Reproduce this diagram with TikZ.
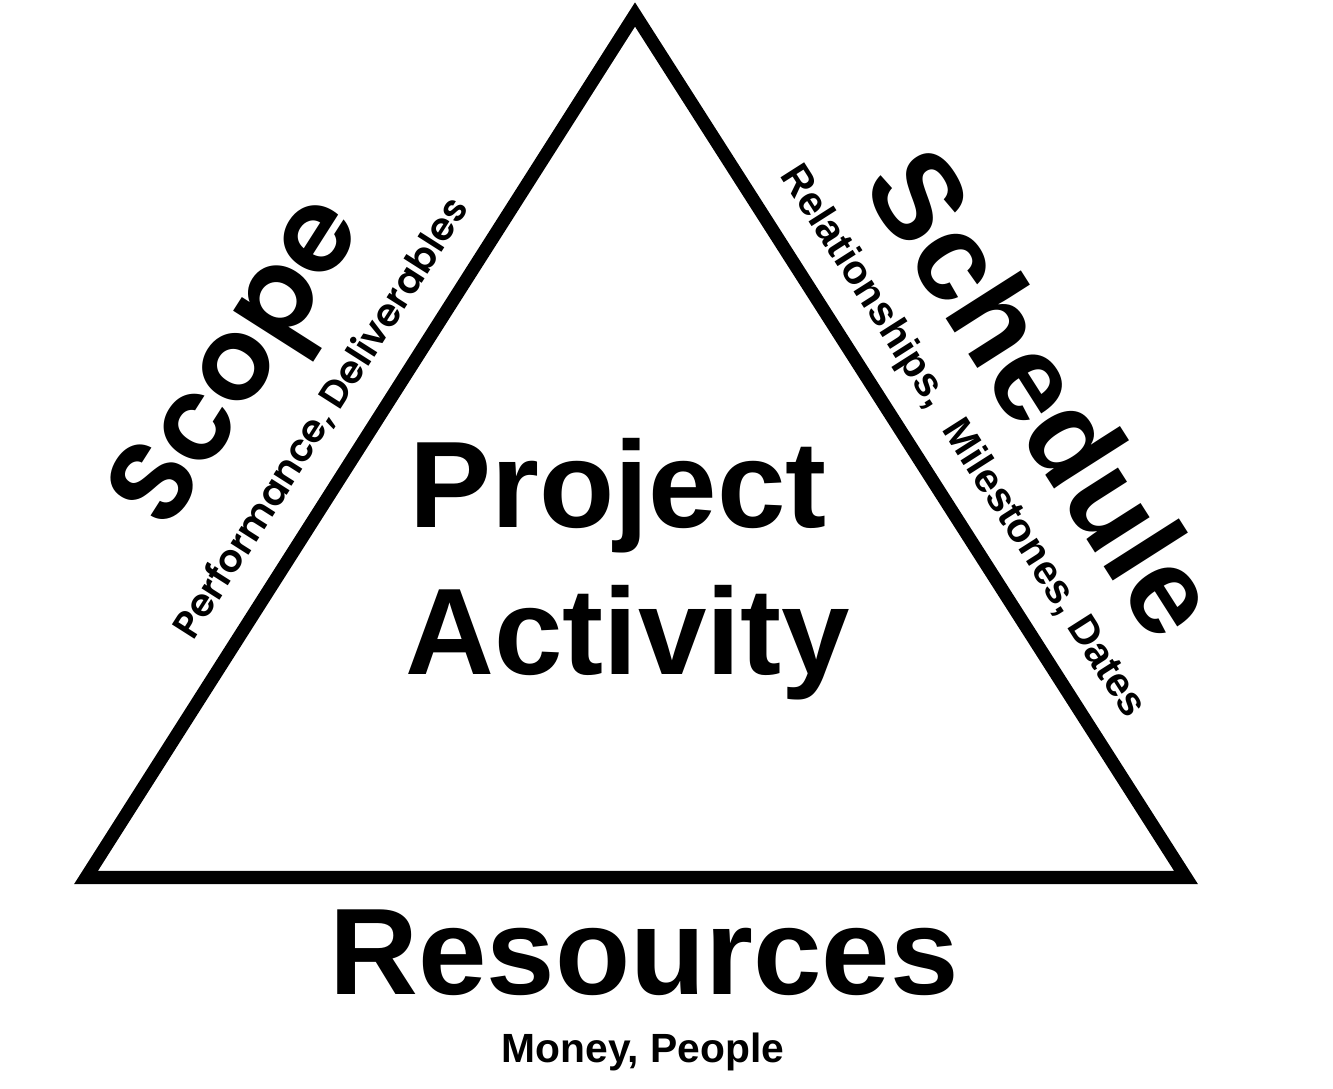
\documentclass[tikz,border=0pt]{standalone}
\usepackage{fontspec}
\setmainfont{Liberation Sans}
\newfontfamily\geofont{Poppins}[UprightFont={* SemiBold}, BoldFont={* Bold}]

\begin{document}
\begin{tikzpicture}[x=0.01cm, y=-0.01cm,
    big/.style={font=\fontsize{35}{42}\selectfont\bfseries, inner sep=0pt},
    small/.style={font=\fontsize{11.6}{14}\selectfont\bfseries, inner sep=0pt},
    geobig/.style={font=\geofont\fontsize{33}{38}\selectfont, inner sep=0pt},
    geosmall/.style={font=\geofont\fontsize{10.9}{13}\selectfont, inner sep=0pt}]
    \useasboundingbox (0,0) rectangle (1333,1089);

    \coordinate (T) at (635,14.5);
    \coordinate (L) at (86,877.5);
    \coordinate (R) at (1186,877.5);
    \draw[line width=3.7pt] (T) -- (L) -- (R) -- cycle;

    \node[big, anchor=base] (project) at (618,528) {Project};
    \node[big, anchor=base] (activity) at (628,675) {Activity};

    \node[geobig, rotate=57.5] (scope) at (244,366) {Scope};
    \node[geosmall, rotate=57.5] (scopenote) at (321,418) {Performance, Deliverables};

    \node[big, rotate=-57.5] (schedule) at (1045,392) {Schedule};
    \node[small, rotate=-57.5] (schedulenote) at (962,442) {Relationships,\ \ Milestones, Dates};

    \node[big, anchor=base] (resources) at (644,995) {Resources};
    \node[small, anchor=base] (resourcesnote) at (643,1063) {Money, People};
\end{tikzpicture}
\end{document}
